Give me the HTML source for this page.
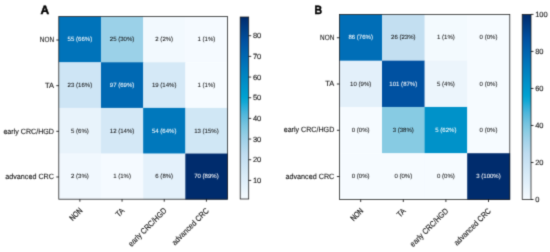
<!DOCTYPE html>
<html><head><meta charset="utf-8"><style>
html,body{margin:0;padding:0;background:#fff;width:550px;height:252px;overflow:hidden}
svg{display:block;will-change:transform}
text{font-family:"Liberation Sans", sans-serif;text-rendering:geometricPrecision}
.c{font-size:6.05px;text-anchor:middle;stroke-width:0.05px}
.yl{font-size:7.6px;text-anchor:end;fill:#111;stroke:#111;stroke-width:0.1px}
.xl{font-size:8.2px;text-anchor:end;fill:#111;stroke:#111;stroke-width:0.1px}
.cb{font-size:7.5px;fill:#111;stroke:#111;stroke-width:0.1px}
.t{font-size:12px;font-weight:bold;stroke:#000;stroke-width:0.45px}
</style></head><body>
<svg width="550" height="252" viewBox="0 0 550 252">
<defs><filter id="bl" x="0" y="0" width="550" height="252" filterUnits="userSpaceOnUse" color-interpolation-filters="sRGB"><feConvolveMatrix order="3" kernelMatrix="0.02041 0.10204 0.02041 0.10204 0.51020 0.10204 0.02041 0.10204 0.02041" edgeMode="duplicate" preserveAlpha="true"/></filter></defs>
<g filter="url(#bl)">
<rect width="550" height="252" fill="#fff"/>
<rect x="58.80" y="16.60" width="42.47" height="45.95" fill="#0073ba"/>
<rect x="100.97" y="16.60" width="42.47" height="45.95" fill="#9bd1e8"/>
<rect x="143.15" y="16.60" width="42.47" height="45.95" fill="#f2f9fe"/>
<rect x="185.32" y="16.60" width="42.47" height="45.95" fill="#f5faff"/>
<rect x="58.80" y="62.25" width="42.47" height="45.95" fill="#cee5f5"/>
<rect x="100.97" y="62.25" width="42.47" height="45.95" fill="#0069b3"/>
<rect x="143.15" y="62.25" width="42.47" height="45.95" fill="#d5e9f7"/>
<rect x="185.32" y="62.25" width="42.47" height="45.95" fill="#f6fbff"/>
<rect x="58.80" y="107.90" width="42.47" height="45.95" fill="#e8f3fb"/>
<rect x="100.97" y="107.90" width="42.47" height="45.95" fill="#d4e8f6"/>
<rect x="143.15" y="107.90" width="42.47" height="45.95" fill="#0078bc"/>
<rect x="185.32" y="107.90" width="42.47" height="45.95" fill="#d0e7f5"/>
<rect x="58.80" y="153.55" width="42.47" height="45.95" fill="#f1f8fe"/>
<rect x="100.97" y="153.55" width="42.47" height="45.95" fill="#f5faff"/>
<rect x="143.15" y="153.55" width="42.47" height="45.95" fill="#e4f1fb"/>
<rect x="185.32" y="153.55" width="42.47" height="45.95" fill="#002c6d"/>
<text x="79.89" y="41.22" class="c" fill="#fff" stroke="#fff">55 (66%)</text>
<text x="122.06" y="41.22" class="c" fill="#111" stroke="#111">25 (30%)</text>
<text x="164.24" y="41.22" class="c" fill="#111" stroke="#111">2 (2%)</text>
<text x="206.41" y="41.22" class="c" fill="#111" stroke="#111">1 (1%)</text>
<text x="79.89" y="86.87" class="c" fill="#111" stroke="#111">23 (16%)</text>
<text x="122.06" y="86.87" class="c" fill="#fff" stroke="#fff">97 (69%)</text>
<text x="164.24" y="86.87" class="c" fill="#111" stroke="#111">19 (14%)</text>
<text x="206.41" y="86.87" class="c" fill="#111" stroke="#111">1 (1%)</text>
<text x="79.89" y="132.53" class="c" fill="#111" stroke="#111">5 (6%)</text>
<text x="122.06" y="132.53" class="c" fill="#111" stroke="#111">12 (14%)</text>
<text x="164.24" y="132.53" class="c" fill="#fff" stroke="#fff">54 (64%)</text>
<text x="206.41" y="132.53" class="c" fill="#111" stroke="#111">13 (15%)</text>
<text x="79.89" y="178.18" class="c" fill="#111" stroke="#111">2 (3%)</text>
<text x="122.06" y="178.18" class="c" fill="#111" stroke="#111">1 (1%)</text>
<text x="164.24" y="178.18" class="c" fill="#111" stroke="#111">6 (8%)</text>
<text x="206.41" y="178.18" class="c" fill="#fff" stroke="#fff">70 (89%)</text>
<rect x="58.80" y="16.60" width="168.70" height="182.60" fill="none" stroke="#1a1a1a" stroke-width="0.75"/>
<line x1="56.30" y1="40.02" x2="58.80" y2="40.02" stroke="#000" stroke-width="0.8"/>
<text x="54.00" y="42.23" class="yl" textLength="14.2" lengthAdjust="spacingAndGlyphs">NON</text>
<line x1="56.30" y1="85.67" x2="58.80" y2="85.67" stroke="#000" stroke-width="0.8"/>
<text x="54.00" y="87.87" class="yl" textLength="9.0" lengthAdjust="spacingAndGlyphs">TA</text>
<line x1="56.30" y1="131.32" x2="58.80" y2="131.32" stroke="#000" stroke-width="0.8"/>
<text x="54.00" y="133.52" class="yl" textLength="50.6" lengthAdjust="spacingAndGlyphs">early CRC/HGD</text>
<line x1="56.30" y1="176.97" x2="58.80" y2="176.97" stroke="#000" stroke-width="0.8"/>
<text x="54.00" y="179.17" class="yl" textLength="48.8" lengthAdjust="spacingAndGlyphs">advanced CRC</text>
<line x1="79.89" y1="199.20" x2="79.89" y2="201.70" stroke="#000" stroke-width="0.8"/>
<text transform="translate(82.89,211.20) rotate(-45)" x="0" y="0" class="xl" textLength="14.2" lengthAdjust="spacingAndGlyphs">NON</text>
<line x1="122.06" y1="199.20" x2="122.06" y2="201.70" stroke="#000" stroke-width="0.8"/>
<text transform="translate(125.06,211.20) rotate(-45)" x="0" y="0" class="xl" textLength="9.0" lengthAdjust="spacingAndGlyphs">TA</text>
<line x1="164.24" y1="199.20" x2="164.24" y2="201.70" stroke="#000" stroke-width="0.8"/>
<text transform="translate(167.24,211.20) rotate(-45)" x="0" y="0" class="xl" textLength="50.6" lengthAdjust="spacingAndGlyphs">early CRC/HGD</text>
<line x1="206.41" y1="199.20" x2="206.41" y2="201.70" stroke="#000" stroke-width="0.8"/>
<text transform="translate(209.41,211.20) rotate(-45)" x="0" y="0" class="xl" textLength="48.8" lengthAdjust="spacingAndGlyphs">advanced CRC</text>
<defs><linearGradient id="gA" x1="0" y1="0" x2="0" y2="1"><stop offset="0.0000" stop-color="#002c6d"/><stop offset="0.0312" stop-color="#003479"/><stop offset="0.0625" stop-color="#003e85"/><stop offset="0.0938" stop-color="#004691"/><stop offset="0.1250" stop-color="#004f9f"/><stop offset="0.1562" stop-color="#0057a6"/><stop offset="0.1875" stop-color="#0060ac"/><stop offset="0.2188" stop-color="#0068b2"/><stop offset="0.2500" stop-color="#0071b8"/><stop offset="0.2812" stop-color="#007abd"/><stop offset="0.3125" stop-color="#0082c0"/><stop offset="0.3438" stop-color="#008ac4"/><stop offset="0.3750" stop-color="#0092c9"/><stop offset="0.4062" stop-color="#0099cd"/><stop offset="0.4375" stop-color="#00a1d1"/><stop offset="0.4688" stop-color="#12a8d5"/><stop offset="0.5000" stop-color="#31afd9"/><stop offset="0.5312" stop-color="#4db6db"/><stop offset="0.5625" stop-color="#63bddd"/><stop offset="0.5938" stop-color="#77c4e0"/><stop offset="0.6250" stop-color="#87cbe3"/><stop offset="0.6562" stop-color="#97cfe6"/><stop offset="0.6875" stop-color="#a5d3ea"/><stop offset="0.7188" stop-color="#b1d8ec"/><stop offset="0.7500" stop-color="#bedcf0"/><stop offset="0.7812" stop-color="#c5e0f2"/><stop offset="0.8125" stop-color="#cce4f4"/><stop offset="0.8438" stop-color="#d3e8f6"/><stop offset="0.8750" stop-color="#daecf8"/><stop offset="0.9062" stop-color="#e0effa"/><stop offset="0.9375" stop-color="#e7f3fb"/><stop offset="0.9688" stop-color="#eff7fd"/><stop offset="1.0000" stop-color="#f6fbff"/></linearGradient></defs>
<rect x="240.20" y="17.00" width="8.50" height="182.00" fill="url(#gA)" stroke="#1a1a1a" stroke-width="0.75"/>
<line x1="248.70" y1="180.40" x2="251.20" y2="180.40" stroke="#000" stroke-width="0.8"/>
<text x="252.90" y="183.00" class="cb">10</text>
<line x1="248.70" y1="159.73" x2="251.20" y2="159.73" stroke="#000" stroke-width="0.8"/>
<text x="252.90" y="162.33" class="cb">20</text>
<line x1="248.70" y1="139.06" x2="251.20" y2="139.06" stroke="#000" stroke-width="0.8"/>
<text x="252.90" y="141.66" class="cb">30</text>
<line x1="248.70" y1="118.39" x2="251.20" y2="118.39" stroke="#000" stroke-width="0.8"/>
<text x="252.90" y="120.99" class="cb">40</text>
<line x1="248.70" y1="97.72" x2="251.20" y2="97.72" stroke="#000" stroke-width="0.8"/>
<text x="252.90" y="100.32" class="cb">50</text>
<line x1="248.70" y1="77.05" x2="251.20" y2="77.05" stroke="#000" stroke-width="0.8"/>
<text x="252.90" y="79.65" class="cb">60</text>
<line x1="248.70" y1="56.38" x2="251.20" y2="56.38" stroke="#000" stroke-width="0.8"/>
<text x="252.90" y="58.98" class="cb">70</text>
<line x1="248.70" y1="35.71" x2="251.20" y2="35.71" stroke="#000" stroke-width="0.8"/>
<text x="252.90" y="38.31" class="cb">80</text>
<text x="40.4" y="13.8" class="t">A</text>
<rect x="339.40" y="14.40" width="42.90" height="46.57" fill="#006eb7"/>
<rect x="382.00" y="14.40" width="42.90" height="46.57" fill="#c3dff1"/>
<rect x="424.60" y="14.40" width="42.90" height="46.57" fill="#f3fafe"/>
<rect x="467.20" y="14.40" width="42.90" height="46.57" fill="#f6fbff"/>
<rect x="339.40" y="60.67" width="42.90" height="46.57" fill="#e3f0fa"/>
<rect x="382.00" y="60.67" width="42.90" height="46.57" fill="#0051a1"/>
<rect x="424.60" y="60.67" width="42.90" height="46.57" fill="#ecf5fc"/>
<rect x="467.20" y="60.67" width="42.90" height="46.57" fill="#f6fbff"/>
<rect x="339.40" y="106.95" width="42.90" height="46.57" fill="#f6fbff"/>
<rect x="382.00" y="106.95" width="42.90" height="46.57" fill="#87cbe3"/>
<rect x="424.60" y="106.95" width="42.90" height="46.57" fill="#0092c9"/>
<rect x="467.20" y="106.95" width="42.90" height="46.57" fill="#f6fbff"/>
<rect x="339.40" y="153.22" width="42.90" height="46.57" fill="#f6fbff"/>
<rect x="382.00" y="153.22" width="42.90" height="46.57" fill="#f6fbff"/>
<rect x="424.60" y="153.22" width="42.90" height="46.57" fill="#f6fbff"/>
<rect x="467.20" y="153.22" width="42.90" height="46.57" fill="#002c6d"/>
<text x="360.70" y="39.34" class="c" fill="#fff" stroke="#fff">86 (76%)</text>
<text x="403.30" y="39.34" class="c" fill="#111" stroke="#111">26 (23%)</text>
<text x="445.90" y="39.34" class="c" fill="#111" stroke="#111">1 (1%)</text>
<text x="488.50" y="39.34" class="c" fill="#111" stroke="#111">0 (0%)</text>
<text x="360.70" y="85.61" class="c" fill="#111" stroke="#111">10 (9%)</text>
<text x="403.30" y="85.61" class="c" fill="#fff" stroke="#fff">101 (87%)</text>
<text x="445.90" y="85.61" class="c" fill="#111" stroke="#111">5 (4%)</text>
<text x="488.50" y="85.61" class="c" fill="#111" stroke="#111">0 (0%)</text>
<text x="360.70" y="131.89" class="c" fill="#111" stroke="#111">0 (0%)</text>
<text x="403.30" y="131.89" class="c" fill="#111" stroke="#111">3 (38%)</text>
<text x="445.90" y="131.89" class="c" fill="#fff" stroke="#fff">5 (62%)</text>
<text x="488.50" y="131.89" class="c" fill="#111" stroke="#111">0 (0%)</text>
<text x="360.70" y="178.16" class="c" fill="#111" stroke="#111">0 (0%)</text>
<text x="403.30" y="178.16" class="c" fill="#111" stroke="#111">0 (0%)</text>
<text x="445.90" y="178.16" class="c" fill="#111" stroke="#111">0 (0%)</text>
<text x="488.50" y="178.16" class="c" fill="#fff" stroke="#fff">3 (100%)</text>
<rect x="339.40" y="14.40" width="170.40" height="185.10" fill="none" stroke="#1a1a1a" stroke-width="0.75"/>
<line x1="336.90" y1="37.74" x2="339.40" y2="37.74" stroke="#000" stroke-width="0.8"/>
<text x="334.30" y="39.94" class="yl" textLength="14.2" lengthAdjust="spacingAndGlyphs">NON</text>
<line x1="336.90" y1="84.01" x2="339.40" y2="84.01" stroke="#000" stroke-width="0.8"/>
<text x="334.30" y="86.21" class="yl" textLength="9.0" lengthAdjust="spacingAndGlyphs">TA</text>
<line x1="336.90" y1="130.29" x2="339.40" y2="130.29" stroke="#000" stroke-width="0.8"/>
<text x="334.30" y="132.49" class="yl" textLength="50.6" lengthAdjust="spacingAndGlyphs">early CRC/HGD</text>
<line x1="336.90" y1="176.56" x2="339.40" y2="176.56" stroke="#000" stroke-width="0.8"/>
<text x="334.30" y="178.76" class="yl" textLength="48.8" lengthAdjust="spacingAndGlyphs">advanced CRC</text>
<line x1="360.70" y1="199.50" x2="360.70" y2="202.00" stroke="#000" stroke-width="0.8"/>
<text transform="translate(363.70,211.50) rotate(-45)" x="0" y="0" class="xl" textLength="14.2" lengthAdjust="spacingAndGlyphs">NON</text>
<line x1="403.30" y1="199.50" x2="403.30" y2="202.00" stroke="#000" stroke-width="0.8"/>
<text transform="translate(406.30,211.50) rotate(-45)" x="0" y="0" class="xl" textLength="9.0" lengthAdjust="spacingAndGlyphs">TA</text>
<line x1="445.90" y1="199.50" x2="445.90" y2="202.00" stroke="#000" stroke-width="0.8"/>
<text transform="translate(448.90,211.50) rotate(-45)" x="0" y="0" class="xl" textLength="50.6" lengthAdjust="spacingAndGlyphs">early CRC/HGD</text>
<line x1="488.50" y1="199.50" x2="488.50" y2="202.00" stroke="#000" stroke-width="0.8"/>
<text transform="translate(491.50,211.50) rotate(-45)" x="0" y="0" class="xl" textLength="48.8" lengthAdjust="spacingAndGlyphs">advanced CRC</text>
<defs><linearGradient id="gB" x1="0" y1="0" x2="0" y2="1"><stop offset="0.0000" stop-color="#002c6d"/><stop offset="0.0312" stop-color="#003479"/><stop offset="0.0625" stop-color="#003e85"/><stop offset="0.0938" stop-color="#004691"/><stop offset="0.1250" stop-color="#004f9f"/><stop offset="0.1562" stop-color="#0057a6"/><stop offset="0.1875" stop-color="#0060ac"/><stop offset="0.2188" stop-color="#0068b2"/><stop offset="0.2500" stop-color="#0071b8"/><stop offset="0.2812" stop-color="#007abd"/><stop offset="0.3125" stop-color="#0082c0"/><stop offset="0.3438" stop-color="#008ac4"/><stop offset="0.3750" stop-color="#0092c9"/><stop offset="0.4062" stop-color="#0099cd"/><stop offset="0.4375" stop-color="#00a1d1"/><stop offset="0.4688" stop-color="#12a8d5"/><stop offset="0.5000" stop-color="#31afd9"/><stop offset="0.5312" stop-color="#4db6db"/><stop offset="0.5625" stop-color="#63bddd"/><stop offset="0.5938" stop-color="#77c4e0"/><stop offset="0.6250" stop-color="#87cbe3"/><stop offset="0.6562" stop-color="#97cfe6"/><stop offset="0.6875" stop-color="#a5d3ea"/><stop offset="0.7188" stop-color="#b1d8ec"/><stop offset="0.7500" stop-color="#bedcf0"/><stop offset="0.7812" stop-color="#c5e0f2"/><stop offset="0.8125" stop-color="#cce4f4"/><stop offset="0.8438" stop-color="#d3e8f6"/><stop offset="0.8750" stop-color="#daecf8"/><stop offset="0.9062" stop-color="#e0effa"/><stop offset="0.9375" stop-color="#e7f3fb"/><stop offset="0.9688" stop-color="#eff7fd"/><stop offset="1.0000" stop-color="#f6fbff"/></linearGradient></defs>
<rect x="522.20" y="14.40" width="8.80" height="185.10" fill="url(#gB)" stroke="#1a1a1a" stroke-width="0.75"/>
<line x1="531.00" y1="199.50" x2="533.50" y2="199.50" stroke="#000" stroke-width="0.8"/>
<text x="535.20" y="202.10" class="cb">0</text>
<line x1="531.00" y1="162.48" x2="533.50" y2="162.48" stroke="#000" stroke-width="0.8"/>
<text x="535.20" y="165.08" class="cb">20</text>
<line x1="531.00" y1="125.46" x2="533.50" y2="125.46" stroke="#000" stroke-width="0.8"/>
<text x="535.20" y="128.06" class="cb">40</text>
<line x1="531.00" y1="88.44" x2="533.50" y2="88.44" stroke="#000" stroke-width="0.8"/>
<text x="535.20" y="91.04" class="cb">60</text>
<line x1="531.00" y1="51.42" x2="533.50" y2="51.42" stroke="#000" stroke-width="0.8"/>
<text x="535.20" y="54.02" class="cb">80</text>
<line x1="531.00" y1="14.40" x2="533.50" y2="14.40" stroke="#000" stroke-width="0.8"/>
<text x="535.20" y="17.00" class="cb">100</text>
<text x="314.4" y="13.8" class="t" textLength="7.6" lengthAdjust="spacingAndGlyphs">B</text>
</g>
</svg>
</body></html>
